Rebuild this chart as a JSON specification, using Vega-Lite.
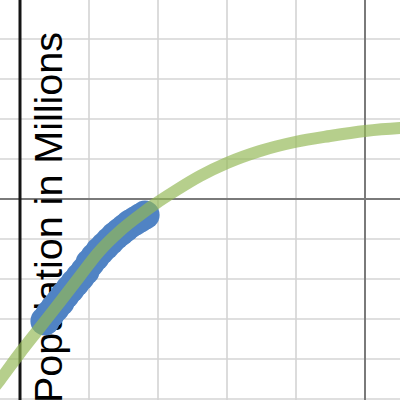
{
  "$schema": "https://vega.github.io/schema/vega-lite/v6.json",
  "width": 400,
  "height": 400,
  "padding": 0,
  "autosize": "none",
  "background": "white",
  "config": {"view": {"stroke": null}},
  "datasets": {
    "vgrid": [{"x": 1}, {"x": 2}, {"x": 3}, {"x": 4}],
    "hgrid": [
      {"y": -5}, {"y": -4}, {"y": -3}, {"y": -2}, {"y": -1},
      {"y": 1}, {"y": 2}, {"y": 3}, {"y": 4}
    ],
    "curve": [
      {"x": -0.435, "y": -4.85},
      {"x": -0.29, "y": -4.525},
      {"x": 0, "y": -3.85},
      {"x": 0.261, "y": -3.275},
      {"x": 0.58, "y": -2.575},
      {"x": 0.87, "y": -1.925},
      {"x": 1.13, "y": -1.35},
      {"x": 1.449, "y": -0.8},
      {"x": 1.739, "y": -0.4},
      {"x": 1.957, "y": -0.125},
      {"x": 2.246, "y": 0.2},
      {"x": 2.609, "y": 0.575},
      {"x": 3.0, "y": 0.9},
      {"x": 3.478, "y": 1.2},
      {"x": 3.986, "y": 1.425},
      {"x": 4.493, "y": 1.575},
      {"x": 5.0, "y": 1.7},
      {"x": 5.507, "y": 1.775},
      {"x": 5.797, "y": 1.8}
    ],
    "pts": [
      {"x": 0.362, "y": -3.05},
      {"x": 0.435, "y": -2.875},
      {"x": 0.507, "y": -2.725},
      {"x": 0.58, "y": -2.575},
      {"x": 0.652, "y": -2.4},
      {"x": 0.725, "y": -2.25},
      {"x": 0.797, "y": -2.1},
      {"x": 0.87, "y": -1.95},
      {"x": 0.942, "y": -1.8},
      {"x": 1.014, "y": -1.6},
      {"x": 1.087, "y": -1.45},
      {"x": 1.159, "y": -1.3},
      {"x": 1.232, "y": -1.175},
      {"x": 1.304, "y": -1.05},
      {"x": 1.377, "y": -0.925},
      {"x": 1.449, "y": -0.825},
      {"x": 1.522, "y": -0.725},
      {"x": 1.594, "y": -0.625},
      {"x": 1.667, "y": -0.55},
      {"x": 1.739, "y": -0.475},
      {"x": 1.812, "y": -0.4}
    ]
  },
  "layer": [
    {
      "data": {"name": "vgrid"},
      "mark": {"type": "rule", "color": "#d4d4d4", "strokeWidth": 1.6},
      "encoding": {
        "x": {"field": "x", "type": "quantitative", "scale": {"domain": [-0.2899, 5.5072], "nice": false, "zero": false}, "axis": null}
      }
    },
    {
      "data": {"name": "hgrid"},
      "mark": {"type": "rule", "color": "#d4d4d4", "strokeWidth": 1.6},
      "encoding": {
        "y": {"field": "y", "type": "quantitative", "scale": {"domain": [-5.025, 4.975], "nice": false, "zero": false}, "axis": null}
      }
    },
    {
      "data": {"values": [{"x": 5}]},
      "mark": {"type": "rule", "color": "#7a7a7a", "strokeWidth": 2},
      "encoding": {
        "x": {"field": "x", "type": "quantitative", "scale": {"domain": [-0.2899, 5.5072], "nice": false, "zero": false}, "axis": null}
      }
    },
    {
      "data": {"values": [{"y": 0}]},
      "mark": {"type": "rule", "color": "#7a7a7a", "strokeWidth": 2},
      "encoding": {
        "y": {"field": "y", "type": "quantitative", "scale": {"domain": [-5.025, 4.975], "nice": false, "zero": false}, "axis": null}
      }
    },
    {
      "data": {"values": [{"x": 0}]},
      "mark": {"type": "rule", "color": "#141414", "strokeWidth": 3},
      "encoding": {
        "x": {"field": "x", "type": "quantitative", "scale": {"domain": [-0.2899, 5.5072], "nice": false, "zero": false}, "axis": null}
      }
    },
    {
      "data": {"values": [{"x": 0.609, "y": -0.4625, "label": "Population in Millions"}]},
      "mark": {
        "type": "text",
        "angle": 270,
        "align": "center",
        "baseline": "alphabetic",
        "font": "Liberation Sans",
        "fontSize": 39.5,
        "color": "#000000"
      },
      "encoding": {
        "x": {"field": "x", "type": "quantitative", "scale": {"domain": [-0.2899, 5.5072], "nice": false, "zero": false}, "axis": null},
        "y": {"field": "y", "type": "quantitative", "scale": {"domain": [-5.025, 4.975], "nice": false, "zero": false}, "axis": null},
        "text": {"field": "label"}
      }
    },
    {
      "data": {"name": "pts"},
      "mark": {"type": "circle", "size": 850, "opacity": 1, "color": "#5083c4", "clip": true},
      "encoding": {
        "x": {"field": "x", "type": "quantitative", "scale": {"domain": [-0.2899, 5.5072], "nice": false, "zero": false}, "axis": null},
        "y": {"field": "y", "type": "quantitative", "scale": {"domain": [-5.025, 4.975], "nice": false, "zero": false}, "axis": null}
      }
    },
    {
      "data": {"name": "curve"},
      "mark": {
        "type": "line",
        "color": "#94b856",
        "strokeWidth": 12,
        "opacity": 0.68,
        "interpolate": "monotone",
        "clip": true
      },
      "encoding": {
        "x": {"field": "x", "type": "quantitative", "scale": {"domain": [-0.2899, 5.5072], "nice": false, "zero": false}, "axis": null},
        "y": {"field": "y", "type": "quantitative", "scale": {"domain": [-5.025, 4.975], "nice": false, "zero": false}, "axis": null}
      }
    }
  ]
}
